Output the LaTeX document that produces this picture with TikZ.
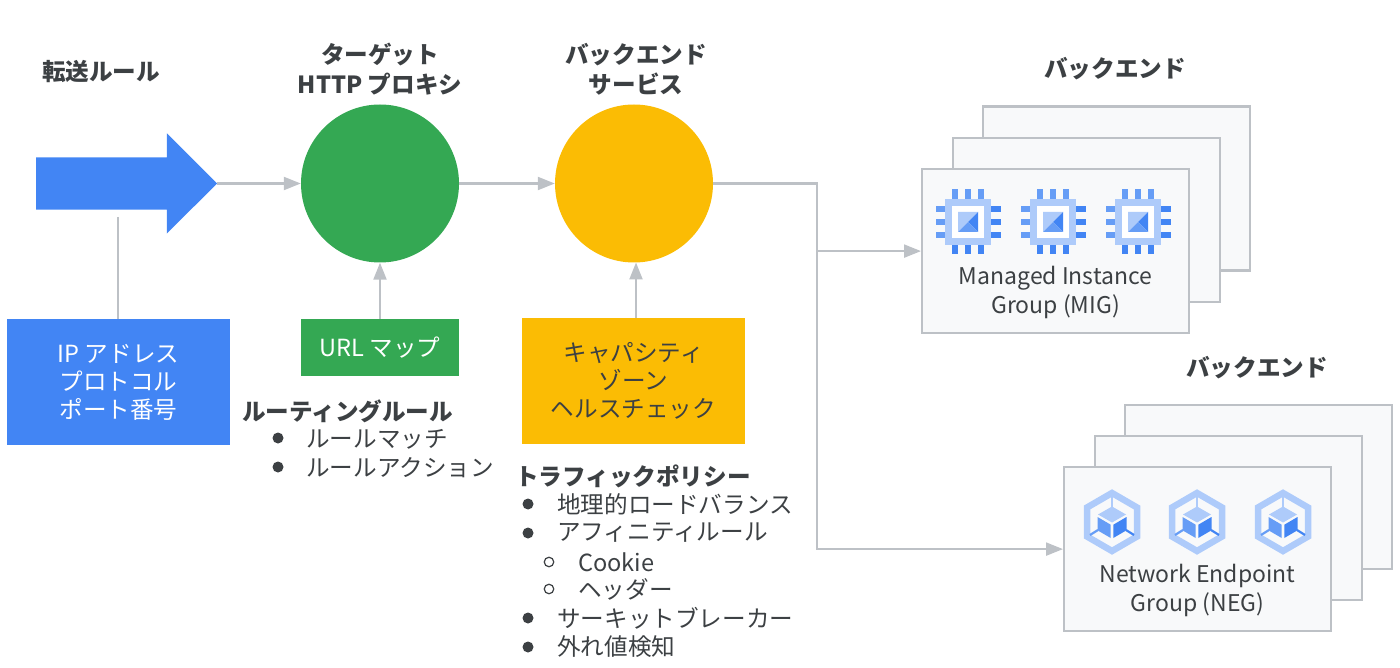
\documentclass[tikz,border=0pt]{standalone}
\usepackage{fontspec}
\setmainfont{Noto Sans CJK JP}
\usepackage{tikz}
\usetikzlibrary{arrows.meta,positioning,calc,shapes.arrows,shapes.geometric}
\definecolor{cBlue}{HTML}{4285F4}
\definecolor{cBlueM}{HTML}{669DF6}
\definecolor{cBlueL}{HTML}{AECBFA}
\definecolor{cGreen}{HTML}{34A853}
\definecolor{cYellow}{HTML}{FBBC04}
\definecolor{cLine}{HTML}{BDC1C6}
\definecolor{cText}{HTML}{3C4043}
\definecolor{cPanel}{HTML}{F8F9FA}
\tikzset{
  ttl/.style   ={font=\fontsize{23.6}{30}\selectfont\bfseries,text=cText,align=center,inner sep=0pt},
  hdr/.style   ={ttl,anchor=west},
  itm/.style   ={font=\fontsize{23.6}{30}\selectfont,text=cText,anchor=west,inner sep=0pt},
  dot/.style   ={circle,fill=cText,inner sep=0pt,minimum size=11pt},
  ring/.style  ={circle,draw=cText,line width=1.2pt,inner sep=0pt,minimum size=9.5pt},
  ball/.style  ={circle,inner sep=0pt,minimum size=158pt},
  card/.style  ={rectangle,inner sep=0pt,align=center,font=\fontsize{23.6}{28}\selectfont},
  pnl/.style   ={draw=cLine,fill=cPanel,line width=2.2pt,inner sep=0pt,
                 minimum width=266.5pt,minimum height=164pt,anchor=north west},
  lab/.style   ={font=\fontsize{23}{29}\selectfont,text=cText,align=center,inner sep=0pt},
  lnk/.style   ={draw=cLine,line width=2.2pt},
  sig/.style   ={lnk,-{Triangle[length=17pt,width=13pt]}},
  pics/chipicon/.style={code={
    \fill[cBlueL] (-22.7,-22.7) rectangle (22.7,22.7);
    \fill[white] (-16.3,-16.3) rectangle (16.3,16.3);
    \foreach \o in {-13,0,13}{%
      \fill[cBlueM] (\o-3.2,-32.5) rectangle (\o+3.2,-22.7);
      \fill[cBlue]  (\o-3.2,22.7) rectangle (\o+3.2,32.5);
      \fill[cBlueM] (-32.5,\o-3.2) rectangle (-22.7,\o+3.2);
      \fill[cBlue]  (22.7,\o-3.2) rectangle (32.5,\o+3.2);
    }
    \fill[cBlueL] (-10,-10) -- (10,-10) -- (-10,10) -- cycle;
    \fill[cBlue] (10,-10) -- (10,10) -- (0,0) -- cycle;
    \fill[cBlueM] (0,0) -- (10,10) -- (-10,10) -- cycle;
  }},
  pics/hexicon/.style={code={
    \draw[cBlueL,line width=6.5pt,miter limit=10]
      (0,-29) -- (25,-14.5) -- (25,14.5) -- (0,29) -- (-25,14.5) -- (-25,-14.5) -- cycle;
    \draw[cBlueL,line width=2.2pt] (0,-27) -- (0,-15);
    \draw[cBlueM,line width=2.2pt] (-22,13) -- (-14,8);
    \draw[cBlue,line width=2.2pt] (22,13) -- (14,8);
    \fill[cBlueL] (0,-15.5) -- (14,-7.5) -- (0,0.5) -- (-14,-7.5) -- cycle;
    \fill[cBlueM] (-14.5,-5) -- (-1.3,2.7) -- (-1.3,16) -- (-14.5,8.3) -- cycle;
    \fill[cBlue] (14.5,-5) -- (1.3,2.7) -- (1.3,16) -- (14.5,8.3) -- cycle;
  }},
}

\begin{document}
\begin{tikzpicture}[x=1pt, y=-1pt]
\useasboundingbox (0,0) rectangle (1400,668);

% ===== titles ===========================================================
\node[ttl] (tfwd) at (101,72) {転送ルール};
\node[ttl] (tprx) at (380,69.5) {ターゲット\\HTTP プロキシ};
\node[ttl] (tsvc) at (636,69.5) {バックエンド\\サービス};
\node[ttl] (tmig) at (1115,69) {バックエンド};
\node[ttl] (tneg) at (1257,368) {バックエンド};

% ===== main row =========================================================
\node[single arrow,fill=cBlue,inner sep=0pt,inner ysep=26pt,outer sep=0pt,
      single arrow head extend=24pt,minimum height=181pt,anchor=tip]
  (fwd) at (217,183.5) {};
\node[ball,fill=cGreen] (prx) at (380,183.5) {};
\node[ball,fill=cYellow] (svc) at (634,183.5) {};
\coordinate (fwdtap) at (118,217);
\coordinate (fork) at (817,183.5);
\coordinate (svcin) at (636,262.5);

% ===== boxes below ======================================================
\node[card,fill=cBlue,text=white,minimum width=223pt,minimum height=126pt]
  (addr) at (118.5,382) {IP アドレス\\プロトコル\\ポート番号};
\node[card,fill=cGreen,text=white,minimum width=158pt,minimum height=57pt]
  (umap) at (380,347.5) {URL マップ};
\node[card,fill=cYellow,text=cText,minimum width=223pt,minimum height=126pt]
  (cfg) at (633.5,381) {キャパシティ\\ゾーン\\ヘルスチェック};

% ===== backend stacks ===================================================
\foreach \n/\x/\y in {a/982/105.5,b/952/137,c/921/168}{%
  \node[pnl] (mig\n) at (\x,\y) {};
}
\foreach \n/\x/\y in {a/1124/404,b/1094/435,c/1063/466}{%
  \node[pnl] (neg\n) at (\x,\y) {};
}
\foreach \x in {968,1053,1138}{\pic at (\x,222) {chipicon};}
\foreach \x in {1112,1197,1283}{\pic at (\x,522) {hexicon};}
\node[lab] (cmig) at (1055.5,292) {Managed Instance\\Group (MIG)};
\node[lab] (cneg) at (1197.5,590) {Network Endpoint\\Group (NEG)};

% ===== connectors =======================================================
\draw[sig] (fwd.tip) -- (prx.west);
\draw[sig] (prx.east) -- (svc.west);
\draw[lnk] (fwdtap) -- (addr.north-|fwdtap);
\draw[sig] (umap.north) -- (prx.south);
\draw[sig] (cfg.north-|svcin) -- (svcin);
\draw[sig] (svc.east) -- (fork) |- (migc.west);
\draw[sig] (fork) |- (negc.west);

% ===== routing rules ====================================================
\node[hdr] (hrt) at (242,411) {ルーティングルール};
\foreach [count=\i] \y/\s in {438/ルールマッチ,467/ルールアクション}{%
  \node[dot] (rb\i) at (278,\y) {};
  \node[itm] (ri\i) at (306,\y+1) {\s};
}

% ===== traffic policy ===================================================
\node[hdr] (htp) at (515,476) {トラフィックポリシー};
\foreach [count=\i] \y/\s in {504/地理的ロードバランス,533/アフィニティルール,618/サーキットブレーカー,647/外れ値検知}{%
  \node[dot] (tb\i) at (528,\y) {};
  \node[itm] (ti\i) at (557,\y) {\s};
}
\foreach [count=\i] \y/\s in {562/Cookie,589/ヘッダー}{%
  \node[ring] (sb\i) at (549,\y) {};
  \node[itm] (si\i) at (578,\y) {\s};
}
\end{tikzpicture}
\end{document}
